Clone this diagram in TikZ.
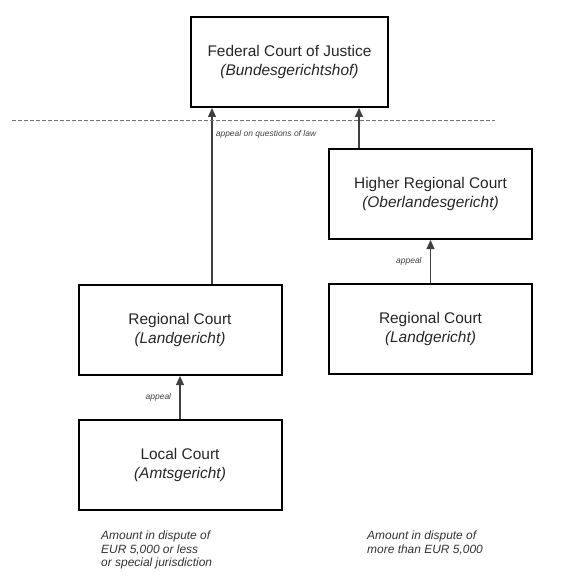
\documentclass[tikz,border=0pt]{standalone}
\usepackage{fontspec}
\setmainfont{Liberation Sans}
\usetikzlibrary{positioning,arrows.meta}

\begin{document}
\begin{tikzpicture}[
  x=1bp, y=-1bp,
  node distance=43bp,
  court/.style={draw, line width=2bp, minimum width=203bp, minimum height=90bp,
                font=\fontsize{15.5}{18.5}\selectfont, align=center, text=black!85},
  arr/.style={-{Triangle[width=8bp,length=9bp]}, line width=1.1bp, draw=black!75},
  tag/.style={font=\fontsize{8.5}{10}\selectfont\itshape, text=black!75},
  note/.style={font=\fontsize{12}{13.5}\selectfont\itshape, align=left,
               text=black!80, inner sep=0pt, anchor=north west}
]
\useasboundingbox (0,0) rectangle (563,585);

% courts
\node[court, minimum width=197bp] (fed) at (289.5,62) {Federal Court of Justice\\\textit{(Bundesgerichtshof)}};
\node[court] (hrc) at (430.5,194) {Higher Regional Court\\\textit{(Oberlandesgericht)}};
\node[court, below=of hrc] (rrc) {Regional Court\\\textit{(Landgericht)}};
\node[court] (lrc) at (180,330) {Regional Court\\\textit{(Landgericht)}};
\node[court, below=of lrc] (loc) {Local Court\\\textit{(Amtsgericht)}};

% appeals
\coordinate (lawL) at ([xshift=22bp]fed.south west);
\coordinate (lawR) at ([xshift=-30bp]fed.south east);
\draw[arr] (lrc.north -| lawL) -- node[tag, pos=0.85, right] {appeal on questions of law} (lawL);
\draw[arr] (hrc.north -| lawR) -- (lawR);
\draw[arr] (loc) -- node[tag, left=5bp] {appeal} (lrc);
\draw[arr] (rrc) -- node[tag, left=5bp] {appeal} (hrc);

\draw[dashed, dash pattern=on 4bp off 2bp, draw=black!55, line width=0.8bp] (12,120) -- (495,120);

% thresholds
\node[note] (lnote) at (101,531) {Amount in dispute of\\EUR 5,000 or less\\or special jurisdiction};
\node[note] (rnote) at (367,531) {Amount in dispute of\\more than EUR 5,000};
\end{tikzpicture}
\end{document}
